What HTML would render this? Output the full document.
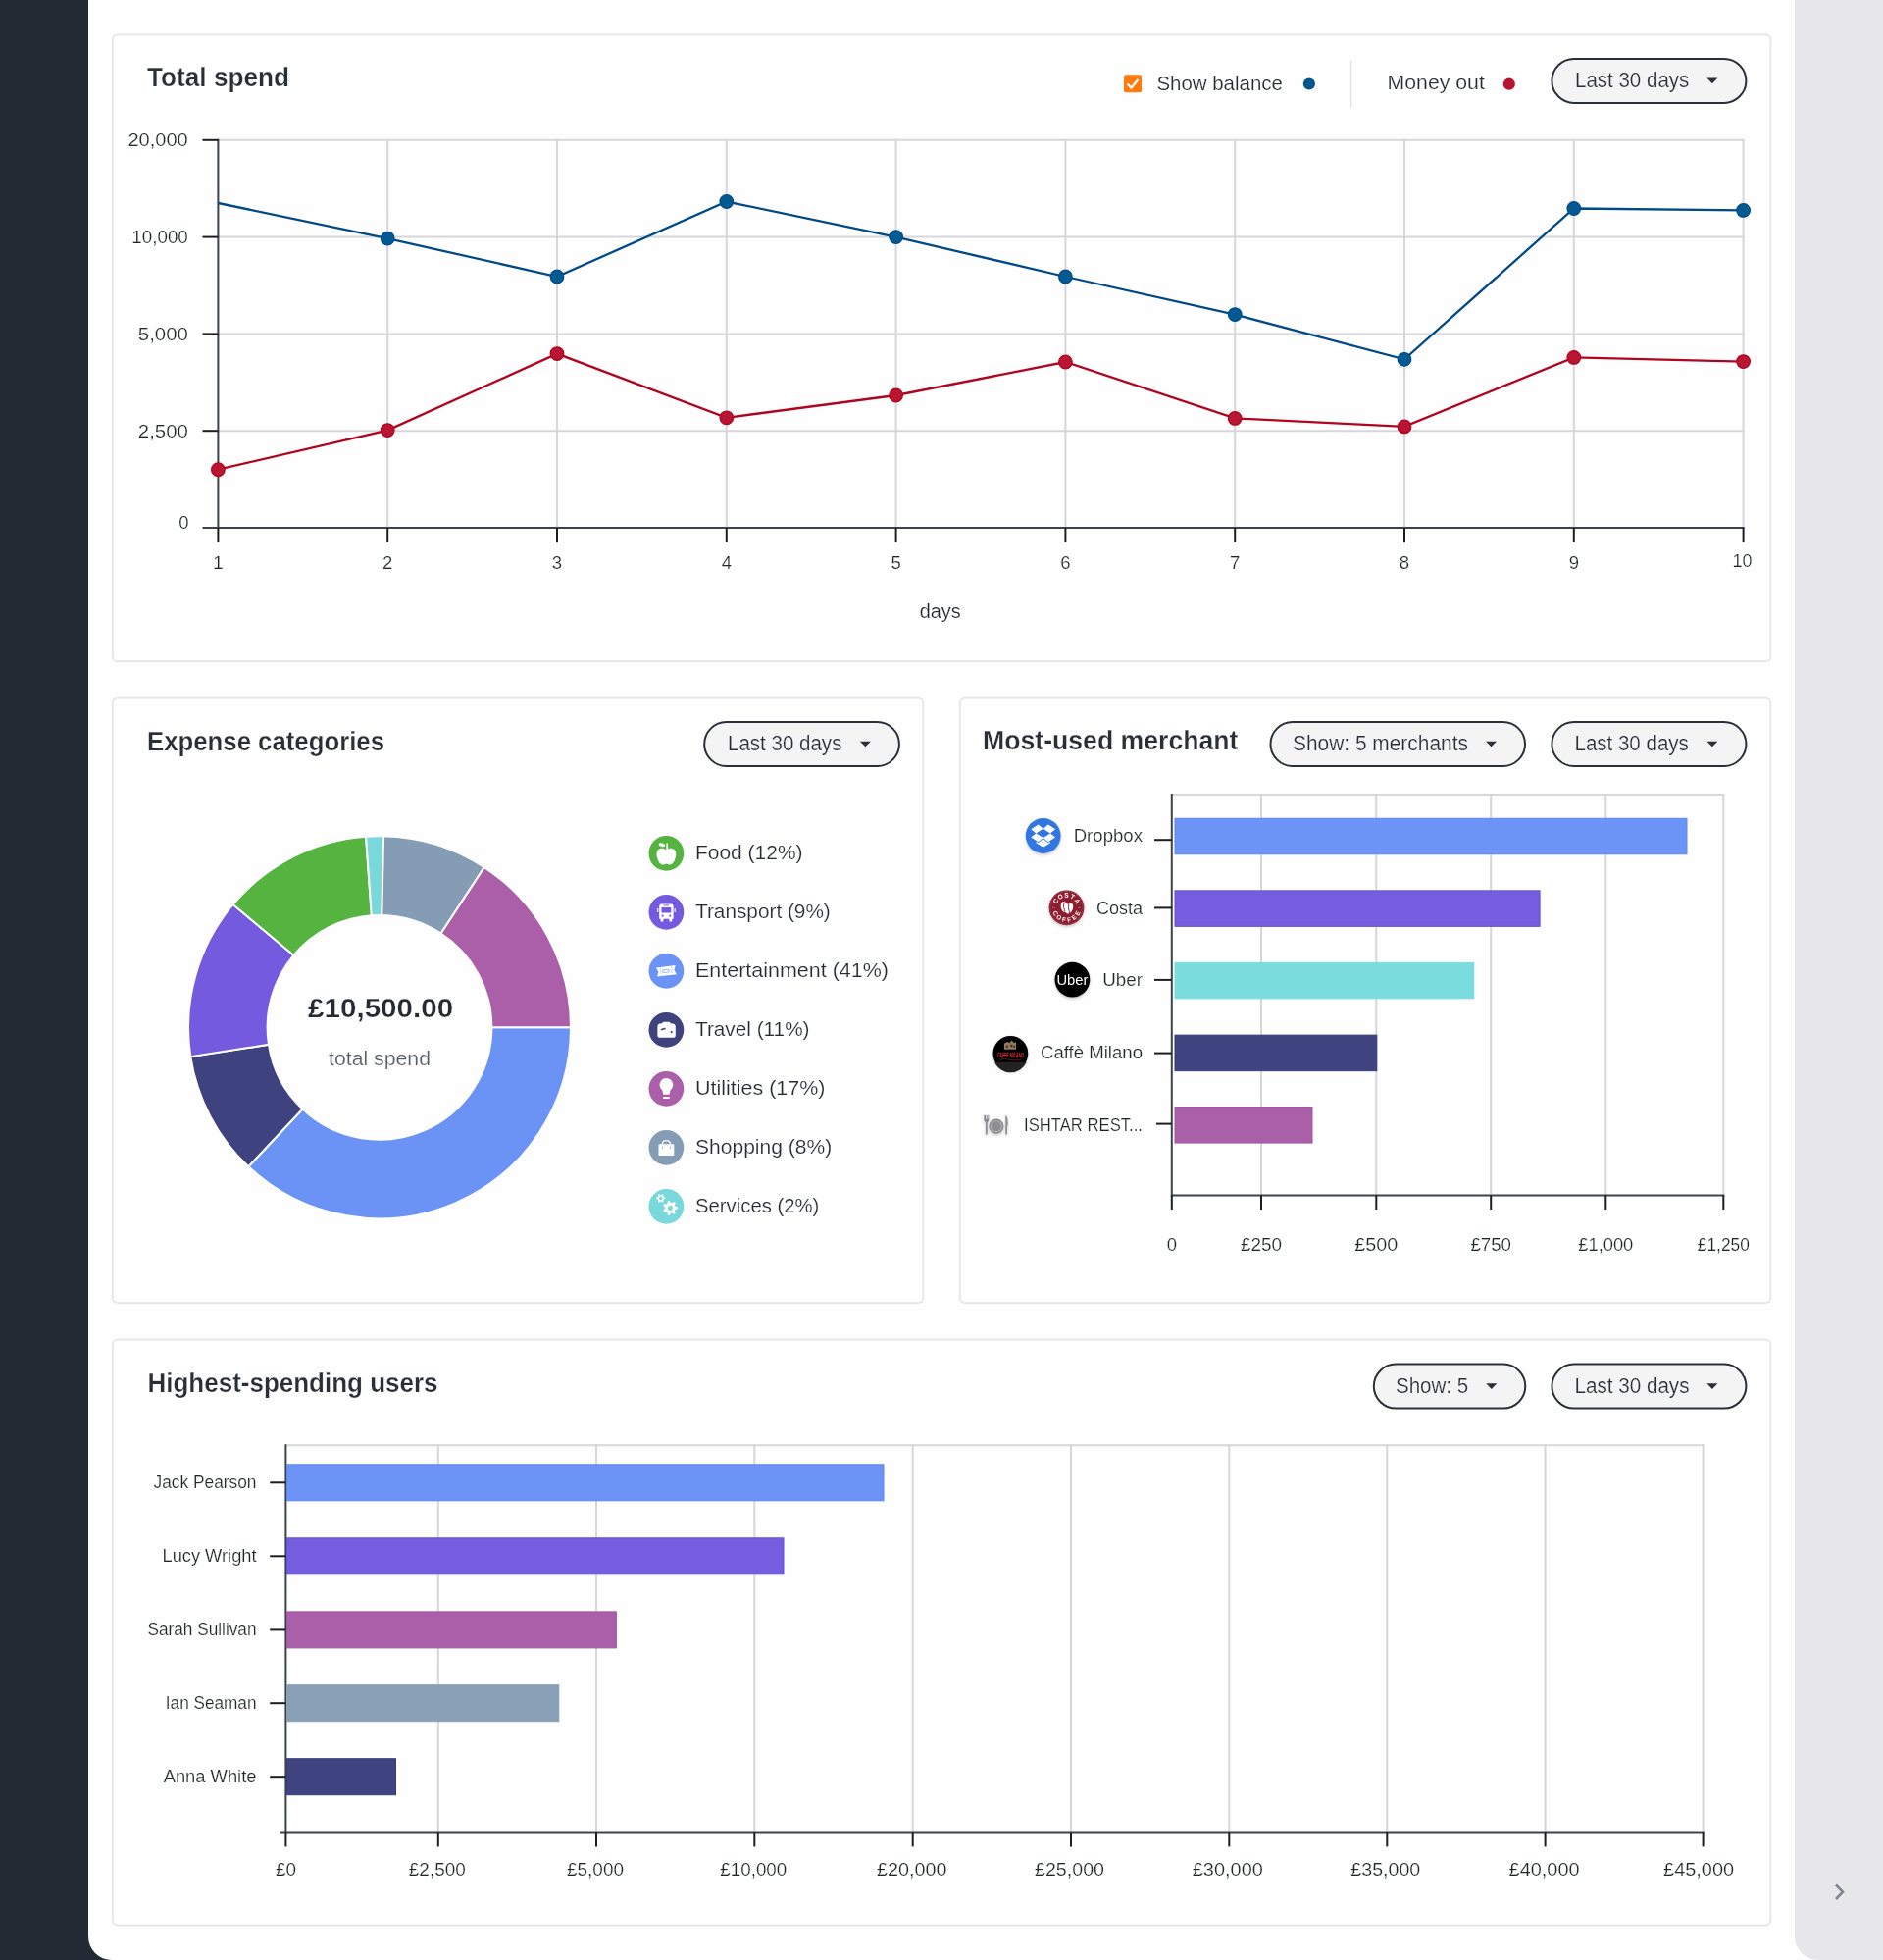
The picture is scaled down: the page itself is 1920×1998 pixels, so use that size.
<!DOCTYPE html>
<html><head><meta charset="utf-8"><title>Dashboard</title>
<style>
html,body{margin:0;padding:0;}
body{width:1920px;height:1998px;overflow:hidden;position:relative;background:#222a33;font-family:"Liberation Sans", sans-serif;}
.main{position:absolute;left:90px;top:0;width:1830px;height:1998px;background:#fefefe;border-bottom-left-radius:24px;}
.panel{position:absolute;left:1830px;top:0;width:90px;height:1998px;background:#e7e7ea;border-bottom-left-radius:24px;}
.card{position:absolute;box-sizing:border-box;border:1.5px solid #e4e4e8;border-radius:5px;background:#fff;}
svg{position:absolute;left:0;top:0;will-change:transform;}
svg text{font-family:"Liberation Sans", sans-serif;}
</style></head><body>
<div class="main"></div>
<div class="panel"></div>
<svg width="1920" height="1998" viewBox="0 0 1920 1998">
<rect x="114.9" y="35.3" width="1690.4" height="638.9" rx="5" fill="#fefefe" stroke="#e5e5e9" stroke-width="1.7"/>
<rect x="114.9" y="711.6" width="826.4" height="616.5" rx="5" fill="#fefefe" stroke="#e5e5e9" stroke-width="1.7"/>
<rect x="978.8" y="711.6" width="826.5" height="616.5" rx="5" fill="#fefefe" stroke="#e5e5e9" stroke-width="1.7"/>
<rect x="114.9" y="1365.6" width="1690.4" height="597" rx="5" fill="#fefefe" stroke="#e5e5e9" stroke-width="1.7"/>
<line x1="222.4" y1="142.8" x2="1778.6" y2="142.8" stroke="#d6d6db" stroke-width="2"/>
<line x1="222.4" y1="241.6" x2="1778.6" y2="241.6" stroke="#d6d6db" stroke-width="2"/>
<line x1="222.4" y1="340.4" x2="1778.6" y2="340.4" stroke="#d6d6db" stroke-width="2"/>
<line x1="222.4" y1="439.2" x2="1778.6" y2="439.2" stroke="#d6d6db" stroke-width="2"/>
<line x1="395.2" y1="141.8" x2="395.2" y2="538" stroke="#d6d6db" stroke-width="2"/>
<line x1="568" y1="141.8" x2="568" y2="538" stroke="#d6d6db" stroke-width="2"/>
<line x1="740.8" y1="141.8" x2="740.8" y2="538" stroke="#d6d6db" stroke-width="2"/>
<line x1="913.6" y1="141.8" x2="913.6" y2="538" stroke="#d6d6db" stroke-width="2"/>
<line x1="1086.4" y1="141.8" x2="1086.4" y2="538" stroke="#d6d6db" stroke-width="2"/>
<line x1="1259.2" y1="141.8" x2="1259.2" y2="538" stroke="#d6d6db" stroke-width="2"/>
<line x1="1432" y1="141.8" x2="1432" y2="538" stroke="#d6d6db" stroke-width="2"/>
<line x1="1604.8" y1="141.8" x2="1604.8" y2="538" stroke="#d6d6db" stroke-width="2"/>
<line x1="1777.6" y1="141.8" x2="1777.6" y2="538" stroke="#d6d6db" stroke-width="2"/>
<line x1="222.4" y1="141.8" x2="222.4" y2="538" stroke="#3d434b" stroke-width="2"/>
<line x1="206.5" y1="538" x2="1778.6" y2="538" stroke="#3d434b" stroke-width="2"/>
<line x1="206.5" y1="142.8" x2="222.4" y2="142.8" stroke="#1b1e22" stroke-width="2"/>
<line x1="206.5" y1="241.6" x2="222.4" y2="241.6" stroke="#1b1e22" stroke-width="2"/>
<line x1="206.5" y1="340.4" x2="222.4" y2="340.4" stroke="#1b1e22" stroke-width="2"/>
<line x1="206.5" y1="439.2" x2="222.4" y2="439.2" stroke="#1b1e22" stroke-width="2"/>
<line x1="222.4" y1="538" x2="222.4" y2="552.5" stroke="#1b1e22" stroke-width="2"/>
<line x1="395.2" y1="538" x2="395.2" y2="552.5" stroke="#1b1e22" stroke-width="2"/>
<line x1="568" y1="538" x2="568" y2="552.5" stroke="#1b1e22" stroke-width="2"/>
<line x1="740.8" y1="538" x2="740.8" y2="552.5" stroke="#1b1e22" stroke-width="2"/>
<line x1="913.6" y1="538" x2="913.6" y2="552.5" stroke="#1b1e22" stroke-width="2"/>
<line x1="1086.4" y1="538" x2="1086.4" y2="552.5" stroke="#1b1e22" stroke-width="2"/>
<line x1="1259.2" y1="538" x2="1259.2" y2="552.5" stroke="#1b1e22" stroke-width="2"/>
<line x1="1432" y1="538" x2="1432" y2="552.5" stroke="#1b1e22" stroke-width="2"/>
<line x1="1604.8" y1="538" x2="1604.8" y2="552.5" stroke="#1b1e22" stroke-width="2"/>
<line x1="1777.6" y1="538" x2="1777.6" y2="552.5" stroke="#1b1e22" stroke-width="2"/>
<text x="191.8" y="149.4" font-size="18.5" fill="#1f2626" text-anchor="end" textLength="61.4" lengthAdjust="spacingAndGlyphs" stroke="#fefefe" stroke-width="0.2">20,000</text>
<text x="191.8" y="248.2" font-size="18.5" fill="#1f2626" text-anchor="end" textLength="57.5" lengthAdjust="spacingAndGlyphs" stroke="#fefefe" stroke-width="0.2">10,000</text>
<text x="191.8" y="347" font-size="18.5" fill="#1f2626" text-anchor="end" textLength="51" lengthAdjust="spacingAndGlyphs" stroke="#fefefe" stroke-width="0.2">5,000</text>
<text x="191.8" y="445.8" font-size="18.5" fill="#1f2626" text-anchor="end" textLength="51" lengthAdjust="spacingAndGlyphs" stroke="#fefefe" stroke-width="0.2">2,500</text>
<text x="192.5" y="539.4" font-size="18.5" fill="#1f2626" text-anchor="end" stroke="#fefefe" stroke-width="0.2">0</text>
<text x="222.4" y="579.5" font-size="18.5" fill="#1f2626" text-anchor="middle" stroke="#fefefe" stroke-width="0.2">1</text>
<text x="395.2" y="579.5" font-size="18.5" fill="#1f2626" text-anchor="middle" stroke="#fefefe" stroke-width="0.2">2</text>
<text x="568" y="579.5" font-size="18.5" fill="#1f2626" text-anchor="middle" stroke="#fefefe" stroke-width="0.2">3</text>
<text x="740.8" y="579.5" font-size="18.5" fill="#1f2626" text-anchor="middle" stroke="#fefefe" stroke-width="0.2">4</text>
<text x="913.6" y="579.5" font-size="18.5" fill="#1f2626" text-anchor="middle" stroke="#fefefe" stroke-width="0.2">5</text>
<text x="1086.4" y="579.5" font-size="18.5" fill="#1f2626" text-anchor="middle" stroke="#fefefe" stroke-width="0.2">6</text>
<text x="1259.2" y="579.5" font-size="18.5" fill="#1f2626" text-anchor="middle" stroke="#fefefe" stroke-width="0.2">7</text>
<text x="1432" y="579.5" font-size="18.5" fill="#1f2626" text-anchor="middle" stroke="#fefefe" stroke-width="0.2">8</text>
<text x="1604.8" y="579.5" font-size="18.5" fill="#1f2626" text-anchor="middle" stroke="#fefefe" stroke-width="0.2">9</text>
<text x="1776.6" y="578.3" font-size="18.5" fill="#1f2626" text-anchor="middle" textLength="20" lengthAdjust="spacingAndGlyphs" stroke="#fefefe" stroke-width="0.2">10</text>
<text x="958.7" y="629.6" font-size="20" fill="#1f2530" text-anchor="middle" textLength="42" lengthAdjust="spacingAndGlyphs" stroke="#fefefe" stroke-width="0.2">days</text>
<polyline points="222.4,207 395.2,243.1 568,282 740.8,205.5 913.6,241.6 1086.4,282 1259.2,320.6 1432,366.3 1604.8,212.5 1777.6,214.4" fill="none" stroke="#014a86" stroke-width="2.3"/>
<polyline points="222.4,478.7 395.2,438.6 568,360.6 740.8,425.8 913.6,403 1086.4,369 1259.2,426.4 1432,434.9 1604.8,364.4 1777.6,368.6" fill="none" stroke="#b1041f" stroke-width="2.3"/>
<circle cx="395.2" cy="243.1" r="6.8" fill="#035a93" stroke="#014a86" stroke-width="1.2"/>
<circle cx="568" cy="282" r="6.8" fill="#035a93" stroke="#014a86" stroke-width="1.2"/>
<circle cx="740.8" cy="205.5" r="6.8" fill="#035a93" stroke="#014a86" stroke-width="1.2"/>
<circle cx="913.6" cy="241.6" r="6.8" fill="#035a93" stroke="#014a86" stroke-width="1.2"/>
<circle cx="1086.4" cy="282" r="6.8" fill="#035a93" stroke="#014a86" stroke-width="1.2"/>
<circle cx="1259.2" cy="320.6" r="6.8" fill="#035a93" stroke="#014a86" stroke-width="1.2"/>
<circle cx="1432" cy="366.3" r="6.8" fill="#035a93" stroke="#014a86" stroke-width="1.2"/>
<circle cx="1604.8" cy="212.5" r="6.8" fill="#035a93" stroke="#014a86" stroke-width="1.2"/>
<circle cx="1777.6" cy="214.4" r="6.8" fill="#035a93" stroke="#014a86" stroke-width="1.2"/>
<circle cx="222.4" cy="478.7" r="6.8" fill="#b81632" stroke="#b1041f" stroke-width="1.2"/>
<circle cx="395.2" cy="438.6" r="6.8" fill="#b81632" stroke="#b1041f" stroke-width="1.2"/>
<circle cx="568" cy="360.6" r="6.8" fill="#b81632" stroke="#b1041f" stroke-width="1.2"/>
<circle cx="740.8" cy="425.8" r="6.8" fill="#b81632" stroke="#b1041f" stroke-width="1.2"/>
<circle cx="913.6" cy="403" r="6.8" fill="#b81632" stroke="#b1041f" stroke-width="1.2"/>
<circle cx="1086.4" cy="369" r="6.8" fill="#b81632" stroke="#b1041f" stroke-width="1.2"/>
<circle cx="1259.2" cy="426.4" r="6.8" fill="#b81632" stroke="#b1041f" stroke-width="1.2"/>
<circle cx="1432" cy="434.9" r="6.8" fill="#b81632" stroke="#b1041f" stroke-width="1.2"/>
<circle cx="1604.8" cy="364.4" r="6.8" fill="#b81632" stroke="#b1041f" stroke-width="1.2"/>
<circle cx="1777.6" cy="368.6" r="6.8" fill="#b81632" stroke="#b1041f" stroke-width="1.2"/>
<rect x="1146" y="76.2" width="18" height="18" rx="2" fill="#ff7b0f"/>
<polyline points="1149.5,85.5 1153.5,89.5 1160.5,81" fill="none" stroke="#fff" stroke-width="2.2"/>
<text x="1179.4" y="91.5" font-size="21" fill="#262b33" text-anchor="start" textLength="128.5" lengthAdjust="spacingAndGlyphs" stroke="#fefefe" stroke-width="0.2">Show balance</text>
<circle cx="1334.9" cy="85.5" r="6.1" fill="#02558f"/>
<line x1="1377.6" y1="61.6" x2="1377.6" y2="109.4" stroke="#e2e2e6" stroke-width="1.5"/>
<text x="1414.6" y="91.3" font-size="21" fill="#262b33" text-anchor="start" textLength="99.2" lengthAdjust="spacingAndGlyphs" stroke="#fefefe" stroke-width="0.2">Money out</text>
<circle cx="1538.8" cy="85.7" r="6.1" fill="#b8142f"/>
<text x="150" y="88.4" font-size="27" font-weight="bold" fill="#2a2f37" text-anchor="start" textLength="145" lengthAdjust="spacingAndGlyphs" stroke="#fefefe" stroke-width="0.25">Total spend</text>
<text x="150" y="764.6" font-size="27.5" font-weight="bold" fill="#2a2f37" text-anchor="start" textLength="242" lengthAdjust="spacingAndGlyphs" stroke="#fefefe" stroke-width="0.25">Expense categories</text>
<text x="1002" y="764.4" font-size="27.5" font-weight="bold" fill="#2a2f37" text-anchor="start" textLength="260.5" lengthAdjust="spacingAndGlyphs" stroke="#fefefe" stroke-width="0.25">Most-used merchant</text>
<text x="150.5" y="1418.6" font-size="27.5" font-weight="bold" fill="#2a2f37" text-anchor="start" textLength="296" lengthAdjust="spacingAndGlyphs" stroke="#fefefe" stroke-width="0.25">Highest-spending users</text>
<rect x="1582.4" y="59.9" width="198" height="45" rx="22.5" fill="#f4f4f5" stroke="#2b3038" stroke-width="2"/>
<text x="1606" y="88.9" font-size="21.5" fill="#2b2f36" text-anchor="start" textLength="116.3" lengthAdjust="spacingAndGlyphs" stroke="#f4f4f5" stroke-width="0.2">Last 30 days</text>
<path d="M1740.4,79.6 L1751.4,79.6 L1745.9,85.2 Z" fill="#2b3038"/>
<rect x="718.2" y="736" width="198.7" height="45" rx="22.5" fill="#f4f4f5" stroke="#2b3038" stroke-width="2"/>
<text x="742" y="765" font-size="21.5" fill="#2b2f36" text-anchor="start" textLength="116.4" lengthAdjust="spacingAndGlyphs" stroke="#f4f4f5" stroke-width="0.2">Last 30 days</text>
<path d="M876.9,755.7 L887.9,755.7 L882.4,761.3 Z" fill="#2b3038"/>
<rect x="1295.5" y="736" width="259.5" height="45" rx="22.5" fill="#f4f4f5" stroke="#2b3038" stroke-width="2"/>
<text x="1318" y="765" font-size="21.5" fill="#2b2f36" text-anchor="start" textLength="178.9" lengthAdjust="spacingAndGlyphs" stroke="#f4f4f5" stroke-width="0.2">Show: 5 merchants</text>
<path d="M1515,755.7 L1526,755.7 L1520.5,761.3 Z" fill="#2b3038"/>
<rect x="1582.4" y="736" width="198" height="45" rx="22.5" fill="#f4f4f5" stroke="#2b3038" stroke-width="2"/>
<text x="1605.5" y="765" font-size="21.5" fill="#2b2f36" text-anchor="start" textLength="116.3" lengthAdjust="spacingAndGlyphs" stroke="#f4f4f5" stroke-width="0.2">Last 30 days</text>
<path d="M1740.4,755.7 L1751.4,755.7 L1745.9,761.3 Z" fill="#2b3038"/>
<rect x="1400.8" y="1390.6" width="154.5" height="45" rx="22.5" fill="#f4f4f5" stroke="#2b3038" stroke-width="2"/>
<text x="1423" y="1419.6" font-size="21.5" fill="#2b2f36" text-anchor="start" textLength="74.2" lengthAdjust="spacingAndGlyphs" stroke="#f4f4f5" stroke-width="0.2">Show: 5</text>
<path d="M1515.3,1410.3 L1526.3,1410.3 L1520.8,1415.9 Z" fill="#2b3038"/>
<rect x="1582.4" y="1390.6" width="198" height="45" rx="22.5" fill="#f4f4f5" stroke="#2b3038" stroke-width="2"/>
<text x="1605.5" y="1419.6" font-size="21.5" fill="#2b2f36" text-anchor="start" textLength="117" lengthAdjust="spacingAndGlyphs" stroke="#f4f4f5" stroke-width="0.2">Last 30 days</text>
<path d="M1740.4,1410.3 L1751.4,1410.3 L1745.9,1415.9 Z" fill="#2b3038"/>
<path d="M582,1047.3 A195,195 0 0 1 253.27,1189.22 L308.54,1130.56 A114.4,114.4 0 0 0 501.4,1047.3 Z" fill="#6b93f5" stroke="#fff" stroke-width="2"/>
<path d="M253.27,1189.22 A195,195 0 0 1 194.3,1077.13 L273.95,1064.8 A114.4,114.4 0 0 0 308.54,1130.56 Z" fill="#3e4380" stroke="#fff" stroke-width="2"/>
<path d="M194.3,1077.13 A195,195 0 0 1 237.62,921.96 L299.36,973.77 A114.4,114.4 0 0 0 273.95,1064.8 Z" fill="#735ade" stroke="#fff" stroke-width="2"/>
<path d="M237.62,921.96 A195,195 0 0 1 373.06,852.8 L378.82,933.19 A114.4,114.4 0 0 0 299.36,973.77 Z" fill="#55b340" stroke="#fff" stroke-width="2"/>
<path d="M373.06,852.8 A195,195 0 0 1 391.08,852.34 L389.4,932.93 A114.4,114.4 0 0 0 378.82,933.19 Z" fill="#78d8da" stroke="#fff" stroke-width="2"/>
<path d="M391.08,852.34 A195,195 0 0 1 493.77,884.13 L449.64,951.57 A114.4,114.4 0 0 0 389.4,932.93 Z" fill="#849db4" stroke="#fff" stroke-width="2"/>
<path d="M493.77,884.13 A195,195 0 0 1 582,1047.3 L501.4,1047.3 A114.4,114.4 0 0 0 449.64,951.57 Z" fill="#aa5fa8" stroke="#fff" stroke-width="2"/>
<text x="388.1" y="1036.7" font-size="27.5" font-weight="bold" fill="#262b33" text-anchor="middle" textLength="148" lengthAdjust="spacingAndGlyphs" stroke="#fefefe" stroke-width="0.25">£10,500.00</text>
<text x="387" y="1085.8" font-size="20.5" fill="#545a63" text-anchor="middle" textLength="104" lengthAdjust="spacingAndGlyphs" stroke="#fefefe" stroke-width="0.2">total spend</text>
<g transform="translate(679.4,869.8)"><circle r="17.9" fill="#55b340"/><path d="M0,-3.6 C-2.5,-5.6 -6.5,-5.8 -8.6,-3.2 C-10.6,-0.6 -10,4 -8.2,7.6 C-6.8,10.4 -4.8,12 -2.8,11.6 C-1.6,11.4 -1,10.6 0,10.6 C1,10.6 1.6,11.4 2.8,11.6 C4.8,12 6.8,10.4 8.2,7.6 C10,4 10.6,-0.6 8.6,-3.2 C6.5,-5.8 2.5,-5.6 0,-3.6Z" fill="#fff"/><path d="M0.8,-3.8 L0.8,-10.2" stroke="#fff" stroke-width="1.7"/><ellipse cx="-4.6" cy="-8.6" rx="3.2" ry="1.8" transform="rotate(15 -4.6 -8.6)" fill="#fff"/></g>
<text x="709" y="875.8" font-size="21" fill="#262b33" text-anchor="start" textLength="109.5" lengthAdjust="spacingAndGlyphs" stroke="#fefefe" stroke-width="0.2">Food (12%)</text>
<g transform="translate(679.4,929.8)"><circle r="17.9" fill="#735ade"/><path d="M-7.2,-6 Q-7.2,-8.4 -4.8,-8.4 L4.8,-8.4 Q7.2,-8.4 7.2,-6 L7.2,7 L5.8,7 L5.8,9.6 L3,9.6 L3,7 L-3,7 L-3,9.6 L-5.8,9.6 L-5.8,7 L-7.2,7 Z" fill="#fff"/><rect x="-4.9" y="-4.8" width="9.8" height="5.6" rx="0.6" fill="#735ade"/><rect x="-2.8" y="-7.4" width="5.6" height="1" fill="#735ade"/><circle cx="-3.8" cy="3.8" r="1.1" fill="#735ade"/><circle cx="3.8" cy="3.8" r="1.1" fill="#735ade"/><rect x="-9.4" y="-3.6" width="1.3" height="3.6" fill="#fff"/><rect x="8.1" y="-3.6" width="1.3" height="3.6" fill="#fff"/></g>
<text x="709" y="935.8" font-size="21" fill="#262b33" text-anchor="start" textLength="137.8" lengthAdjust="spacingAndGlyphs" stroke="#fefefe" stroke-width="0.2">Transport (9%)</text>
<g transform="translate(679.4,989.8)"><circle r="17.9" fill="#6b93f5"/><g transform="rotate(-7)"><path d="M-10,-4.6 L10,-4.6 L8,0 L10,4.6 L-10,4.6 L-8,0 Z" fill="#fff"/><path d="M-5.6,-3.6 L-5.6,3.6" stroke="#6b93f5" stroke-width="0.6" stroke-dasharray="1 0.8"/><path d="M5.6,-3.6 L5.6,3.6" stroke="#6b93f5" stroke-width="0.6" stroke-dasharray="1 0.8"/><rect x="-3.6" y="-1.4" width="6.4" height="2.8" fill="none" stroke="#6b93f5" stroke-width="0.6"/></g></g>
<text x="709" y="995.8" font-size="21" fill="#262b33" text-anchor="start" textLength="197" lengthAdjust="spacingAndGlyphs" stroke="#fefefe" stroke-width="0.2">Entertainment (41%)</text>
<g transform="translate(679.4,1049.8)"><circle r="17.9" fill="#3e4380"/><path d="M-9,-3 Q-9,-6 -6.5,-6.4 L-4.2,-6.6 Q-4,-8 -2.5,-8 L2.5,-8 Q4,-8 4.2,-6.6 L6.5,-6.4 Q9.4,-6 9.4,-3 L9.4,6 Q9.4,8 7.5,8 L-7,8 Q-9,8 -9,6 Z" fill="#fff"/><path d="M-4.8,-0.2 L-1.4,-1.2" stroke="#3e4380" stroke-width="1.6" stroke-linecap="round"/><circle cx="5.3" cy="2.4" r="1.1" fill="#3e4380"/></g>
<text x="709" y="1055.8" font-size="21" fill="#262b33" text-anchor="start" textLength="116.5" lengthAdjust="spacingAndGlyphs" stroke="#fefefe" stroke-width="0.2">Travel (11%)</text>
<g transform="translate(679.4,1109.8)"><circle r="17.9" fill="#aa5fa8"/><circle cx="0" cy="-4" r="6.9" fill="#fff"/><path d="M-4.2,0 L4.2,0 L3.2,6 L-3.2,6 Z" fill="#fff"/><rect x="-3.3" y="8.3" width="6.6" height="1.9" fill="#fff"/></g>
<text x="709" y="1115.8" font-size="21" fill="#262b33" text-anchor="start" textLength="132.5" lengthAdjust="spacingAndGlyphs" stroke="#fefefe" stroke-width="0.2">Utilities (17%)</text>
<g transform="translate(679.4,1169.8)"><circle r="17.9" fill="#849db4"/><rect x="-7.9" y="-3.6" width="15.8" height="11.8" rx="0.8" fill="#fff"/><path d="M-4,-3.6 Q-4,-7.2 0,-7.2 Q4,-7.2 4,-3.6" fill="none" stroke="#fff" stroke-width="1.3"/><circle cx="-4" cy="0" r="0.7" fill="#849db4"/><circle cx="4" cy="0" r="0.7" fill="#849db4"/></g>
<text x="709" y="1175.8" font-size="21" fill="#262b33" text-anchor="start" textLength="139.2" lengthAdjust="spacingAndGlyphs" stroke="#fefefe" stroke-width="0.2">Shopping (8%)</text>
<g transform="translate(679.4,1229.8)"><circle r="17.9" fill="#78d8da"/><polygon points="-1.04,-9 -1.04,-7.8 -2.64,-7.18 -3.06,-6.45 -2.8,-4.75 -3.84,-4.15 -5.18,-5.23 -6.02,-5.23 -7.36,-4.15 -8.4,-4.75 -8.14,-6.45 -8.56,-7.18 -10.16,-7.8 -10.16,-9 -8.56,-9.62 -8.14,-10.35 -8.4,-12.05 -7.36,-12.65 -6.02,-11.57 -5.18,-11.57 -3.84,-12.65 -2.8,-12.05 -3.06,-10.35 -2.64,-9.62" fill="#fbfbfb"/><circle cx="-5.6" cy="-8.4" r="1.6" fill="#78d8da"/><polygon points="11.55,0.75 11.55,2.45 9.1,3.38 8.57,4.47 9.37,6.97 8.04,8.04 5.78,6.7 4.6,6.97 3.15,9.15 1.49,8.77 1.13,6.17 0.18,5.42 -2.44,5.64 -3.17,4.11 -1.37,2.2 -1.37,1 -3.17,-0.91 -2.44,-2.44 0.18,-2.22 1.13,-2.97 1.49,-5.57 3.15,-5.95 4.6,-3.77 5.78,-3.5 8.04,-4.84 9.37,-3.77 8.57,-1.27 9.1,-0.18" fill="#fbfbfb"/><circle cx="4" cy="1.6" r="2.5" fill="#78d8da"/></g>
<text x="709" y="1235.8" font-size="21" fill="#262b33" text-anchor="start" textLength="126.3" lengthAdjust="spacingAndGlyphs" stroke="#fefefe" stroke-width="0.2">Services (2%)</text>
<line x1="1194.8" y1="810" x2="1758.3" y2="810" stroke="#d6d6db" stroke-width="2"/>
<line x1="1286" y1="809" x2="1286" y2="1218.5" stroke="#d6d6db" stroke-width="2"/>
<line x1="1403.3" y1="809" x2="1403.3" y2="1218.5" stroke="#d6d6db" stroke-width="2"/>
<line x1="1520.2" y1="809" x2="1520.2" y2="1218.5" stroke="#d6d6db" stroke-width="2"/>
<line x1="1637.3" y1="809" x2="1637.3" y2="1218.5" stroke="#d6d6db" stroke-width="2"/>
<line x1="1757.3" y1="809" x2="1757.3" y2="1218.5" stroke="#d6d6db" stroke-width="2"/>
<line x1="1194.8" y1="809" x2="1194.8" y2="1218.5" stroke="#3d434b" stroke-width="2"/>
<line x1="1193.8" y1="1218.5" x2="1758.3" y2="1218.5" stroke="#3d434b" stroke-width="2"/>
<line x1="1194.8" y1="1218.5" x2="1194.8" y2="1233" stroke="#1b1e22" stroke-width="2"/>
<text x="1194.8" y="1274.5" font-size="18.5" fill="#1f2626" text-anchor="middle" stroke="#fefefe" stroke-width="0.2">0</text>
<line x1="1286" y1="1218.5" x2="1286" y2="1233" stroke="#1b1e22" stroke-width="2"/>
<text x="1286" y="1274.5" font-size="18.5" fill="#1f2626" text-anchor="middle" textLength="42" lengthAdjust="spacingAndGlyphs" stroke="#fefefe" stroke-width="0.2">£250</text>
<line x1="1403.3" y1="1218.5" x2="1403.3" y2="1233" stroke="#1b1e22" stroke-width="2"/>
<text x="1403.3" y="1274.5" font-size="18.5" fill="#1f2626" text-anchor="middle" textLength="44" lengthAdjust="spacingAndGlyphs" stroke="#fefefe" stroke-width="0.2">£500</text>
<line x1="1520.2" y1="1218.5" x2="1520.2" y2="1233" stroke="#1b1e22" stroke-width="2"/>
<text x="1520.2" y="1274.5" font-size="18.5" fill="#1f2626" text-anchor="middle" textLength="41.5" lengthAdjust="spacingAndGlyphs" stroke="#fefefe" stroke-width="0.2">£750</text>
<line x1="1637.3" y1="1218.5" x2="1637.3" y2="1233" stroke="#1b1e22" stroke-width="2"/>
<text x="1637.3" y="1274.5" font-size="18.5" fill="#1f2626" text-anchor="middle" textLength="56" lengthAdjust="spacingAndGlyphs" stroke="#fefefe" stroke-width="0.2">£1,000</text>
<line x1="1757.3" y1="1218.5" x2="1757.3" y2="1233" stroke="#1b1e22" stroke-width="2"/>
<text x="1757.3" y="1274.5" font-size="18.5" fill="#1f2626" text-anchor="middle" textLength="53" lengthAdjust="spacingAndGlyphs" stroke="#fefefe" stroke-width="0.2">£1,250</text>
<rect x="1198" y="834.25" width="522" height="36.5" fill="#6c93f6" stroke="#5f86f0" stroke-width="1"/>
<line x1="1177" y1="856.2" x2="1194.8" y2="856.2" stroke="#1b1e22" stroke-width="2"/>
<text x="1165" y="858.3" font-size="19" fill="#1f2626" text-anchor="end" textLength="70.3" lengthAdjust="spacingAndGlyphs" stroke="#fefefe" stroke-width="0.2">Dropbox</text>
<rect x="1198" y="907.85" width="372.1" height="36.5" fill="#745ddf" stroke="#6650d8" stroke-width="1"/>
<line x1="1177" y1="925.4" x2="1194.8" y2="925.4" stroke="#1b1e22" stroke-width="2"/>
<text x="1165" y="931.9" font-size="19" fill="#1f2626" text-anchor="end" textLength="47" lengthAdjust="spacingAndGlyphs" stroke="#fefefe" stroke-width="0.2">Costa</text>
<rect x="1198" y="981.35" width="304.8" height="36.5" fill="#7adcdc" stroke="#7adcdc" stroke-width="1"/>
<line x1="1177" y1="998.9" x2="1194.8" y2="998.9" stroke="#1b1e22" stroke-width="2"/>
<text x="1165" y="1005.4" font-size="19" fill="#1f2626" text-anchor="end" textLength="40.8" lengthAdjust="spacingAndGlyphs" stroke="#fefefe" stroke-width="0.2">Uber</text>
<rect x="1198" y="1055.15" width="205.8" height="36.5" fill="#3f4481" stroke="#383d7a" stroke-width="1"/>
<line x1="1177" y1="1073.6" x2="1194.8" y2="1073.6" stroke="#1b1e22" stroke-width="2"/>
<text x="1165" y="1079.2" font-size="19" fill="#1f2626" text-anchor="end" textLength="104" lengthAdjust="spacingAndGlyphs" stroke="#fefefe" stroke-width="0.2">Caffè Milano</text>
<rect x="1198" y="1128.55" width="140" height="36.5" fill="#aa5fa9" stroke="#a057a0" stroke-width="1"/>
<line x1="1179" y1="1145.6" x2="1194.8" y2="1145.6" stroke="#1b1e22" stroke-width="2"/>
<text x="1165" y="1152.6" font-size="19" fill="#1f2626" text-anchor="end" textLength="121" lengthAdjust="spacingAndGlyphs" stroke="#fefefe" stroke-width="0.2">ISHTAR REST...</text>
<defs><filter id="sh" x="-50%" y="-50%" width="200%" height="200%"><feDropShadow dx="0" dy="1.5" stdDeviation="1.6" flood-color="#000" flood-opacity="0.22"/></filter></defs>
<g transform="translate(1063.7,852)"><circle r="17.9" fill="#3176e0" filter="url(#sh)"/><path transform="translate(-12.4,-11.4) scale(0.588)" d="M12.5 0L0 8.1l8.6 6.9 12.5-7.8L12.5 0zM0 21.9l12.5 8.2 8.6-7.2-12.5-7.7L0 21.9zm21.1 1l8.6 7.2 12.4-8.2-8.6-6.9-12.4 7.9zm21.1-14.8L29.7 0l-8.6 7.2 12.4 7.8 8.7-6.9zM21.1 24.4l-8.6 7.2-3.7-2.4v2.7l12.3 7.4 12.3-7.4v-2.7l-3.7 2.4-8.6-7.2z" fill="#fff"/></g>
<g transform="translate(1087.5,925.3)"><circle r="17.9" fill="#8c1a2f" filter="url(#sh)"/><circle r="16.8" fill="none" stroke="#a54a5c" stroke-width="0.7"/><text x="0" y="-10.6" font-size="6.6" font-weight="bold" fill="#fff" text-anchor="middle" transform="rotate(-58)">C</text><text x="0" y="-10.6" font-size="6.6" font-weight="bold" fill="#fff" text-anchor="middle" transform="rotate(-29)">O</text><text x="0" y="-10.6" font-size="6.6" font-weight="bold" fill="#fff" text-anchor="middle" transform="rotate(0)">S</text><text x="0" y="-10.6" font-size="6.6" font-weight="bold" fill="#fff" text-anchor="middle" transform="rotate(29)">T</text><text x="0" y="-10.6" font-size="6.6" font-weight="bold" fill="#fff" text-anchor="middle" transform="rotate(58)">A</text><text x="0" y="14.81" font-size="6.4" font-weight="bold" fill="#fff" text-anchor="middle" transform="rotate(62.5)">C</text><text x="0" y="14.81" font-size="6.4" font-weight="bold" fill="#fff" text-anchor="middle" transform="rotate(37.5)">O</text><text x="0" y="14.81" font-size="6.4" font-weight="bold" fill="#fff" text-anchor="middle" transform="rotate(12.5)">F</text><text x="0" y="14.81" font-size="6.4" font-weight="bold" fill="#fff" text-anchor="middle" transform="rotate(-12.5)">F</text><text x="0" y="14.81" font-size="6.4" font-weight="bold" fill="#fff" text-anchor="middle" transform="rotate(-37.5)">E</text><text x="0" y="14.81" font-size="6.4" font-weight="bold" fill="#fff" text-anchor="middle" transform="rotate(-62.5)">E</text><ellipse cx="-2.2" cy="-0.8" rx="3.6" ry="5.6" transform="rotate(-12 -2.2 -0.8)" fill="#fff"/><ellipse cx="2.6" cy="0.6" rx="3.8" ry="5.8" transform="rotate(22 2.6 0.6)" fill="#fff"/><path d="M-2.6,-5.6 Q-3.8,-0.6 -1.6,4.4 M2.4,-4.8 Q1,0.8 3.4,6" stroke="#8c1a2f" stroke-width="0.9" fill="none"/><path d="M-14.5,0 h3 M11.5,0 h3" stroke="#c98a96" stroke-width="0.6"/></g>
<g transform="translate(1093.4,998.7)"><circle r="17.9" fill="#000" filter="url(#sh)"/></g>
<text x="1093.4" y="1004" font-size="14.2" fill="#fff" text-anchor="middle" textLength="32" lengthAdjust="spacingAndGlyphs">Uber</text>
<g transform="translate(1030.4,1073.8)"><circle r="17.9" fill="#060606" filter="url(#sh)"/><path d="M-16.3,9 L16.3,9 A17.9,17.9 0 0 1 -16.3,9Z" fill="#222"/><path d="M-6.5,-4 L-6.5,-10 L-3,-12 L-1,-10.5 L1,-13.2 L3.5,-10.8 L5.6,-11.5 L5.6,-4 Z" fill="#8f7a5c"/><path d="M-4.5,-8 h2 v2 h-2z M0,-9 h2 v2.5 h-2z M3,-8 h1.6 v2 h-1.6z" fill="#3a2f22"/></g>
<text x="1030.4" y="1077.6" font-size="6.6" font-weight="bold" fill="#e0262d" text-anchor="middle" textLength="27.5" lengthAdjust="spacingAndGlyphs">CAFFÈ MILANO</text>
<path d="M1019,1080.3 Q1024,1078.8 1030,1080.3 T1042,1080" stroke="#7a2326" stroke-width="0.7" fill="none"/>
<g transform="translate(1014.7,1146.4)" filter="url(#sh)"><circle cx="1.2" cy="1.8" r="7.6" fill="#8d8d91"/><circle cx="1.2" cy="1.8" r="5.4" fill="none" stroke="#b2b2b6" stroke-width="1.1"/><path d="M-11.4,-9.6 v4.6 q0,2.2 1.6,2.6 v12.6 h1.8 v-12.6 q1.6,-0.4 1.6,-2.6 v-4.6 h-0.9 v4 h-0.7 v-4 h-0.8 v4 h-0.7 v-4 z" fill="#8d8d91"/><path d="M10.6,10.2 v-19.8 q2.3,1.2 2.3,7 v4 h-0.6 v8.8 z" fill="#8d8d91"/></g>
<line x1="291.4" y1="1473.3" x2="1737.6" y2="1473.3" stroke="#d6d6db" stroke-width="2"/>
<line x1="446.8" y1="1472.3" x2="446.8" y2="1868.4" stroke="#d6d6db" stroke-width="2"/>
<line x1="608" y1="1472.3" x2="608" y2="1868.4" stroke="#d6d6db" stroke-width="2"/>
<line x1="769.3" y1="1472.3" x2="769.3" y2="1868.4" stroke="#d6d6db" stroke-width="2"/>
<line x1="930.7" y1="1472.3" x2="930.7" y2="1868.4" stroke="#d6d6db" stroke-width="2"/>
<line x1="1092" y1="1472.3" x2="1092" y2="1868.4" stroke="#d6d6db" stroke-width="2"/>
<line x1="1253.3" y1="1472.3" x2="1253.3" y2="1868.4" stroke="#d6d6db" stroke-width="2"/>
<line x1="1414.3" y1="1472.3" x2="1414.3" y2="1868.4" stroke="#d6d6db" stroke-width="2"/>
<line x1="1575.6" y1="1472.3" x2="1575.6" y2="1868.4" stroke="#d6d6db" stroke-width="2"/>
<line x1="1736.6" y1="1472.3" x2="1736.6" y2="1868.4" stroke="#d6d6db" stroke-width="2"/>
<line x1="291.4" y1="1472.3" x2="291.4" y2="1868.4" stroke="#3d434b" stroke-width="2"/>
<line x1="285.6" y1="1868.4" x2="1737.6" y2="1868.4" stroke="#3d434b" stroke-width="2"/>
<line x1="291.4" y1="1868.4" x2="291.4" y2="1882.4" stroke="#1b1e22" stroke-width="2"/>
<text x="291.4" y="1911.8" font-size="18.5" fill="#1f2626" text-anchor="middle" textLength="21" lengthAdjust="spacingAndGlyphs" stroke="#fefefe" stroke-width="0.2">£0</text>
<line x1="446.8" y1="1868.4" x2="446.8" y2="1882.4" stroke="#1b1e22" stroke-width="2"/>
<text x="445.8" y="1911.8" font-size="18.5" fill="#1f2626" text-anchor="middle" textLength="58" lengthAdjust="spacingAndGlyphs" stroke="#fefefe" stroke-width="0.2">£2,500</text>
<line x1="608" y1="1868.4" x2="608" y2="1882.4" stroke="#1b1e22" stroke-width="2"/>
<text x="607" y="1911.8" font-size="18.5" fill="#1f2626" text-anchor="middle" textLength="58" lengthAdjust="spacingAndGlyphs" stroke="#fefefe" stroke-width="0.2">£5,000</text>
<line x1="769.3" y1="1868.4" x2="769.3" y2="1882.4" stroke="#1b1e22" stroke-width="2"/>
<text x="768.3" y="1911.8" font-size="18.5" fill="#1f2626" text-anchor="middle" textLength="68" lengthAdjust="spacingAndGlyphs" stroke="#fefefe" stroke-width="0.2">£10,000</text>
<line x1="930.7" y1="1868.4" x2="930.7" y2="1882.4" stroke="#1b1e22" stroke-width="2"/>
<text x="929.7" y="1911.8" font-size="18.5" fill="#1f2626" text-anchor="middle" textLength="71.5" lengthAdjust="spacingAndGlyphs" stroke="#fefefe" stroke-width="0.2">£20,000</text>
<line x1="1092" y1="1868.4" x2="1092" y2="1882.4" stroke="#1b1e22" stroke-width="2"/>
<text x="1090.5" y="1911.8" font-size="18.5" fill="#1f2626" text-anchor="middle" textLength="71" lengthAdjust="spacingAndGlyphs" stroke="#fefefe" stroke-width="0.2">£25,000</text>
<line x1="1253.3" y1="1868.4" x2="1253.3" y2="1882.4" stroke="#1b1e22" stroke-width="2"/>
<text x="1251.8" y="1911.8" font-size="18.5" fill="#1f2626" text-anchor="middle" textLength="72" lengthAdjust="spacingAndGlyphs" stroke="#fefefe" stroke-width="0.2">£30,000</text>
<line x1="1414.3" y1="1868.4" x2="1414.3" y2="1882.4" stroke="#1b1e22" stroke-width="2"/>
<text x="1412.8" y="1911.8" font-size="18.5" fill="#1f2626" text-anchor="middle" textLength="71" lengthAdjust="spacingAndGlyphs" stroke="#fefefe" stroke-width="0.2">£35,000</text>
<line x1="1575.6" y1="1868.4" x2="1575.6" y2="1882.4" stroke="#1b1e22" stroke-width="2"/>
<text x="1574.6" y="1911.8" font-size="18.5" fill="#1f2626" text-anchor="middle" textLength="72" lengthAdjust="spacingAndGlyphs" stroke="#fefefe" stroke-width="0.2">£40,000</text>
<line x1="1736.6" y1="1868.4" x2="1736.6" y2="1882.4" stroke="#1b1e22" stroke-width="2"/>
<text x="1732.1" y="1911.8" font-size="18.5" fill="#1f2626" text-anchor="middle" textLength="72" lengthAdjust="spacingAndGlyphs" stroke="#fefefe" stroke-width="0.2">£45,000</text>
<rect x="292.5" y="1492.8" width="608.5" height="37" fill="#6c93f6" stroke="#5f86f0" stroke-width="1"/>
<line x1="275.2" y1="1511.3" x2="291.4" y2="1511.3" stroke="#1b1e22" stroke-width="2"/>
<text x="261.5" y="1516.7" font-size="19" fill="#1f2626" text-anchor="end" textLength="105" lengthAdjust="spacingAndGlyphs" stroke="#fefefe" stroke-width="0.2">Jack Pearson</text>
<rect x="292.5" y="1567.8" width="506.5" height="37" fill="#745ddf" stroke="#6650d8" stroke-width="1"/>
<line x1="275.2" y1="1586.3" x2="291.4" y2="1586.3" stroke="#1b1e22" stroke-width="2"/>
<text x="261.5" y="1591.7" font-size="19" fill="#1f2626" text-anchor="end" textLength="96" lengthAdjust="spacingAndGlyphs" stroke="#fefefe" stroke-width="0.2">Lucy Wright</text>
<rect x="292.5" y="1642.9" width="335.9" height="37" fill="#aa5fa9" stroke="#a057a0" stroke-width="1"/>
<line x1="275.2" y1="1661.4" x2="291.4" y2="1661.4" stroke="#1b1e22" stroke-width="2"/>
<text x="261.5" y="1666.8" font-size="19" fill="#1f2626" text-anchor="end" textLength="111" lengthAdjust="spacingAndGlyphs" stroke="#fefefe" stroke-width="0.2">Sarah Sullivan</text>
<rect x="292.5" y="1717.7" width="277.3" height="37" fill="#87a0b6" stroke="#87a0b6" stroke-width="1"/>
<line x1="275.2" y1="1736.2" x2="291.4" y2="1736.2" stroke="#1b1e22" stroke-width="2"/>
<text x="261.5" y="1741.6" font-size="19" fill="#1f2626" text-anchor="end" textLength="92.7" lengthAdjust="spacingAndGlyphs" stroke="#fefefe" stroke-width="0.2">Ian Seaman</text>
<rect x="292.5" y="1792.7" width="111" height="37" fill="#3f4481" stroke="#383d7a" stroke-width="1"/>
<line x1="275.2" y1="1811.2" x2="291.4" y2="1811.2" stroke="#1b1e22" stroke-width="2"/>
<text x="261.5" y="1816.6" font-size="19" fill="#1f2626" text-anchor="end" textLength="94.8" lengthAdjust="spacingAndGlyphs" stroke="#fefefe" stroke-width="0.2">Anna White</text>
<polyline points="1872,1921.5 1879,1928.7 1872,1936" fill="none" stroke="#82858c" stroke-width="2.6"/>
</svg>
</body></html>
